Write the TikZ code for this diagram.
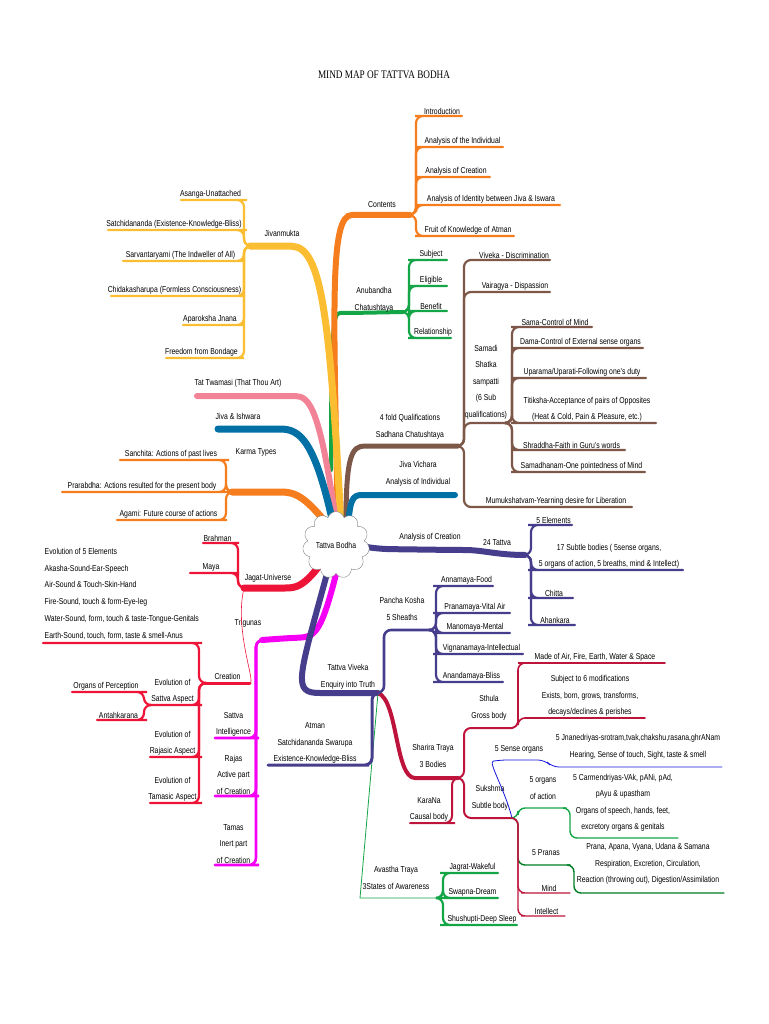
\documentclass[tikz,border=0pt]{standalone}
\usepackage{fontspec}
\setmainfont{Liberation Sans}[FakeStretch=0.8]
\newfontfamily\titlefont{Liberation Serif}[FakeStretch=0.8]
\usetikzlibrary{calc}
\usetikzlibrary{shapes.symbols}

\definecolor{cOrange}{RGB}{245,125,30}
\definecolor{cYellow}{RGB}{251,190,50}
\definecolor{cGreen}{RGB}{20,165,70}
\definecolor{cBrown}{RGB}{125,88,72}
\definecolor{cTeal}{RGB}{0,112,165}
\definecolor{cPink}{RGB}{242,130,150}
\definecolor{cRed}{RGB}{238,20,55}
\definecolor{cMagenta}{RGB}{245,0,245}
\definecolor{cNavy}{RGB}{70,62,140}
\definecolor{cCrimson}{RGB}{190,20,60}
\definecolor{cBlue}{RGB}{20,20,220}
\definecolor{cDkGreen}{RGB}{0,125,35}

\newcommand\lblfont{\fontsize{8.6}{16.5}\selectfont}
\newcount\leafno
% leaf to the right of a junction
\newcommand\leafR[6]{\global\advance\leafno by 1
  \edef\lname{leaf\the\leafno}
  \draw[br,#1] (#2) -- ++(6,0) |- (#3,#5) -- (#4,#5);
  \path (#3,#5) -- node[lbl] (\lname) {#6} (#4,#5);}
% leaf to the left of a junction
\newcommand\leafL[6]{\global\advance\leafno by 1
  \edef\lname{leaf\the\leafno}
  \draw[br,#1] (#2) -- ++(-6,0) |- (#4,#5) -- (#3,#5);
  \path (#3,#5) -- node[lbl] (\lname) {#6} (#4,#5);}

\begin{document}
\begin{tikzpicture}[x=1pt,y=-1pt,
    lbl/.style={above, inner sep=1.5pt, align=center, font=\lblfont, text=black},
    txt/.style={inner sep=1pt, align=center, font=\lblfont, text=black},
    br/.style={rounded corners=7pt, line cap=round, line width=2.2pt},
    trunk/.style={rounded corners=10pt, line cap=round}]
  \useasboundingbox (0,0) rectangle (768,1024);

  \node[font=\titlefont\fontsize{11.5}{12}\selectfont] (title) at (384,75) {MIND MAP OF TATTVA BODHA};

  %%% junctions %%%
  \coordinate (Jc) at (410,215);
  \coordinate (Ja) at (403,312);
  \coordinate (J4) at (458,446);
  \coordinate (Jsam) at (506,423);
  \coordinate (Jvi) at (455,495);
  \coordinate (Jj) at (250,246);
  \coordinate (Jtt) at (197,396);
  \coordinate (Jji) at (218,429);
  \coordinate (Jk) at (232,492);
  \coordinate (Jg) at (244,588);
  \coordinate (Jcr) at (205,683);
  \coordinate (Jsat) at (150,705);
  \coordinate (Jt) at (262,640);
  \coordinate (Jv) at (378,693);
  \coordinate (Jpk) at (430,630);
  \coordinate (Jsh) at (458,778);
  \coordinate (Jst) at (512,728);
  \coordinate (Jsk) at (512,818);
  \coordinate (Joa) at (566,808);
  \coordinate (Jpr) at (570,865);
  \coordinate (Jav) at (437,898);
  \coordinate (Jn) at (525,555);

  %%% trunks %%%
  \draw[trunk, cGreen, line width=4pt] (331,470) .. controls (331,330) and (333,313) .. (350,313) -- (Ja);
  \draw[trunk, cOrange, line width=6pt] (338,525) .. controls (333,300) and (330,215) .. (362,215) -- (Jc);
  \draw[trunk, cYellow, line width=7pt] (341,525) .. controls (330,320) and (322,247) .. (282,246) -- (Jj);
  \draw[trunk, cBrown, line width=5pt] (346,522) .. controls (346,455) and (352,446) .. (375,446) -- (J4);
  \draw[trunk, cTeal, line width=6pt] (348,528) .. controls (350,500) and (352,495) .. (372,495) -- (Jvi);
  \draw[trunk, cPink, line width=6pt] (336,522) .. controls (320,410) and (310,396) .. (285,396) -- (Jtt);
  \draw[trunk, cTeal, line width=7pt] (334,528) .. controls (315,440) and (300,429) .. (270,429) -- (Jji);
  \draw[trunk, cOrange, line width=7pt] (334,533) .. controls (305,495) and (295,492) .. (270,492) -- (Jk);
  \draw[trunk, cRed, line width=7pt] (326,556) .. controls (305,588) and (295,588) .. (275,588) -- (Jg);
  \draw[trunk, cMagenta, line width=6pt] (338,566) .. controls (322,632) and (315,637) .. (290,638) -- (Jt);
  \draw[trunk, cNavy, line width=6pt] (328,570) .. controls (298,680) and (292,693) .. (330,693) -- (Jv);
  \draw[trunk, cNavy, line width=6pt] (360,546) -- (380,549) -- (455,550) to[out=0,in=180] (Jn);
  \draw[trunk, cCrimson, line width=4pt] (Jv) .. controls (398,700) and (395,778) .. (425,778) -- (Jsh);
  \draw[cGreen, line width=0.8pt] (Jv) -- (360,898) -- (Jav);

  \node[cloud, cloud puffs=11, draw=gray, fill=white, minimum width=64pt, minimum height=48pt,
    inner sep=0pt, font=\lblfont] (ctr) at (336,545) {Tattva Bodha};

  %%% branch labels %%%
  \node[txt] (contents) at (382,205) {Contents};
  \node[txt] (anub) at (374,300) {Anubandha\\Chatushtaya};
  \node[txt] (fourfold) at (410,427) {4 fold Qualifications\\Sadhana Chatushtaya};
  \node[txt] (samadi) at (486,382) {Samadi\\Shatka\\sampatti\\(6 Sub\\qualifications)};
  \node[txt] (jivav) at (418,474) {Jiva Vichara\\Analysis of Individual};
  \node[txt] (jivan) at (282,233) {Jivanmukta};
  \node[txt] (tat) at (238,383) {Tat Twamasi (That Thou Art)};
  \node[txt] (jiva) at (238,416) {Jiva \& Ishwara};
  \node[txt] (karma) at (256,452) {Karma Types};
  \node[txt] (jagat) at (268,578) {Jagat-Universe};
  \node[txt] (trig) at (248,623) {Trigunas};
  \node[txt] (tviv) at (348,677) {Tattva Viveka\\Enquiry into Truth};
  \node[txt] (aoc) at (430,537) {Analysis of Creation};
  \node[txt] (tattva24) at (497,543) {24 Tattva};
  \node[txt] (pk) at (402,609) {Pancha Kosha\\5 Sheaths};
  \node[txt] (sharira) at (433,756) {Sharira Traya\\3 Bodies};
  \node[txt] (sthula) at (489,708) {Sthula\\Gross body};
  \node[txt] (suk) at (490,798) {Sukshma\\Subtle body};
  \node[txt] (avastha) at (396,878) {Avastha Traya\\3States of Awareness};

  %%% Contents %%%
  \leafR{cOrange}{Jc}{422}{462}{116}{Introduction}
  \leafR{cOrange}{Jc}{422}{503}{147}{Analysis of the Individual}
  \leafR{cOrange}{Jc}{422}{490}{177}{Analysis of Creation}
  \leafR{cOrange}{Jc}{422}{560}{205}{Analysis of Identity between Jiva \& Iswara}
  \leafR{cOrange}{Jc}{422}{514}{236}{Fruit of Knowledge of Atman}

  %%% Anubandha %%%
  \leafR{cGreen}{Ja}{415}{447}{260}{Subject}
  \leafR{cGreen}{Ja}{415}{447}{286}{Eligible}
  \leafR{cGreen}{Ja}{415}{447}{311}{Benefit}
  \leafR{cGreen}{Ja}{415}{451}{338}{Relationship}

  %%% Sadhana Chatushtaya %%%
  \leafR{cBrown}{J4}{478}{550}{260}{Viveka - Discrimination}
  \leafR{cBrown}{J4}{480}{550}{292}{Vairagya - Dispassion}
  \draw[br,cBrown] (J4) -- ++(6,0) |- (Jsam);
  \leafR{cBrown}{J4}{480}{632}{507}{Mumukshatvam-Yearning desire for Liberation}
  \leafR{cBrown}{Jsam}{518}{592}{327}{Sama-Control of Mind}
  \leafR{cBrown}{Jsam}{518}{643}{348}{Dama-Control of External sense organs}
  \leafR{cBrown}{Jsam}{518}{646}{378}{Uparama/Uparati-Following one's duty}
  \leafR{cBrown}{Jsam}{518}{656}{423}{Titiksha-Acceptance of pairs of Opposites\\(Heat \& Cold, Pain \& Pleasure, etc.)}
  \leafR{cBrown}{Jsam}{518}{625}{450}{Shraddha-Faith in Guru's words}
  \leafR{cBrown}{Jsam}{518}{645}{472}{Samadhanam-One pointedness of Mind}

  %%% Jivanmukta %%%
  \leafL{cYellow}{Jj}{181}{240}{200}{Asanga-Unattached}
  \leafL{cYellow}{Jj}{108}{240}{230}{Satchidananda (Existence-Knowledge-Bliss)}
  \leafL{cYellow}{Jj}{123}{238}{261}{Sarvantaryami (The Indweller of All)}
  \leafL{cYellow}{Jj}{111}{238}{296}{Chidakasharupa (Formless Consciousness)}
  \leafL{cYellow}{Jj}{183}{237}{325}{Aparoksha Jnana}
  \leafL{cYellow}{Jj}{166}{237}{358}{Freedom from Bondage}

  %%% Karma %%%
  \leafL{cOrange}{Jk}{120}{222}{460}{Sanchita: Actions of past lives}
  \leafL{cOrange}{Jk}{62}{222}{492}{Prarabdha: Actions resulted for the present body}
  \leafL{cOrange}{Jk}{117}{220}{520}{Agami: Future course of actions}

  %%% Jagat %%%
  \leafL{cRed}{Jg}{203}{232}{543}{Brahman}
  \leafL{cRed}{Jg}{190}{232}{573}{Maya}
  \draw[cRed, line width=0.6pt] (Jg) .. controls (234,630) and (256,683) .. (250,683);
  \draw[br,cRed,line width=3pt] (250,683) -- node[lbl] (creation) {Creation} (Jcr);
  \leafL{cRed}{Jcr}{43}{195}{643}{}
  \node[anchor=south west, inner sep=1.5pt, align=left, font=\fontsize{8.6}{16.8}\selectfont] (elements) at (43,641)
    {Evolution of 5 Elements\\Akasha-Sound-Ear-Speech\\Air-Sound \& Touch-Skin-Hand\\Fire-Sound, touch \& form-Eye-leg\\Water-Sound, form, touch \& taste-Tongue-Genitals\\Earth-Sound, touch, form, taste \& smell-Anus};
  \leafL{cRed}{Jcr}{150}{195}{705}{Evolution of\\Sattva Aspect}
  \leafL{cRed}{Jcr}{150}{195}{757}{Evolution of\\Rajasic Aspect}
  \leafL{cRed}{Jcr}{150}{195}{803}{Evolution of\\Tamasic Aspect}
  \leafL{cRed}{Jsat}{72}{140}{692}{Organs of Perception}
  \leafL{cRed}{Jsat}{97}{140}{720}{Antahkarana}

  %%% Trigunas %%%
  \leafL{cMagenta,line width=2.6pt}{Jt}{215}{252}{738}{Sattva\\Intelligence}
  \leafL{cMagenta,line width=2.6pt}{Jt}{215}{252}{796}{Rajas\\Active part\\of Creation}
  \leafL{cMagenta,line width=2.6pt}{Jt}{215}{252}{865}{Tamas\\Inert part\\of Creation}

  %%% Tattva Viveka %%%
  \leafL{cNavy,line width=3pt}{Jv}{268}{362}{765}{Atman\\Satchidananda Swarupa\\Existence-Knowledge-Bliss}
  \draw[br,cNavy,line width=2.6pt] (Jv) -- ++(6,0) |- (Jpk);
  \leafR{cNavy}{Jpk}{440}{493}{586}{Annamaya-Food}
  \leafR{cNavy}{Jpk}{440}{510}{613}{Pranamaya-Vital Air}
  \leafR{cNavy}{Jpk}{440}{510}{633}{Manomaya-Mental}
  \leafR{cNavy}{Jpk}{440}{523}{654}{Vignanamaya-Intellectual}
  \leafR{cNavy}{Jpk}{440}{503}{682}{Anandamaya-Bliss}

  %%% Sharira Traya %%%
  \draw[br,cCrimson,line width=2pt] (Jsh) -- ++(6,0) |- (Jst);
  \draw[br,cCrimson,line width=2pt] (Jsh) -- ++(6,0) |- (Jsk);
  \leafL{cCrimson,line width=2pt}{Jsh}{410}{448}{823}{KaraNa\\Causal body}
  \leafR{cCrimson,line width=1.6pt}{Jst}{525}{665}{663}{Made of Air, Fire, Earth, Water \& Space}
  \leafR{cCrimson,line width=1.6pt}{Jst}{535}{645}{718}{Subject to 6 modifications\\Exists, born, grows, transforms,\\decays/declines \& perishes}

  %%% Sukshma %%%
  \draw[br,cBlue,line width=0.8pt] (Jsk) .. controls (505,790) and (488,762) .. (500,760) -- (545,760) -- (552,767) -- (722,767);
  \node[txt] (senses) at (519,749) {5 Sense organs};
  \node[txt] (jnana) at (638,747) {5 Jnanedriyas-srotram,tvak,chakshu,rasana,ghrANam\\Hearing, Sense of touch, Sight, taste \& smell};
  \draw[br,cGreen,line width=1.4pt] (Jsk) -- ++(6,0) |- (Joa);
  \draw[br,cGreen,line width=1.4pt] (Joa) -- ++(4,0) |- (678,838);
  \node[txt] (organs) at (543,788) {5 organs\\of action};
  \node[txt] (karmen) at (623,803) {5 Carmendriyas-VAk, pANi, pAd,\\pAyu \& upastham\\Organs of speech, hands, feet,\\excretory organs \& genitals};
  \draw[br,cDkGreen,line width=1.4pt] (Jsk) -- ++(6,0) |- (Jpr);
  \draw[br,cDkGreen,line width=1.4pt] (Jpr) -- ++(4,0) |- (724,893);
  \node[txt] (pranas) at (546,853) {5 Pranas};
  \node[txt] (prana) at (648,864) {Prana, Apana, Vyana, Udana \& Samana\\Respiration, Excretion, Circulation,\\Reaction (throwing out), Digestion/Assimilation};
  \leafR{cCrimson,line width=1.4pt}{Jsk}{528}{570}{893}{Mind}
  \leafR{cCrimson,line width=1.4pt}{Jsk}{528}{565}{916}{Intellect}

  %%% Avastha Traya %%%
  \leafR{cGreen}{Jav}{447}{498}{873}{Jagrat-Wakeful}
  \leafR{cGreen}{Jav}{447}{498}{898}{Swapna-Dream}
  \leafR{cGreen}{Jav}{447}{517}{925}{Shushupti-Deep Sleep}

  %%% 24 Tattva %%%
  \leafR{cNavy}{Jn}{535}{572}{525}{5 Elements}
  \leafR{cNavy}{Jn}{535}{683}{570}{17 Subtle bodies ( 5sense organs,\\5 organs of action, 5 breaths, mind \& Intellect)}
  \leafR{cNavy}{Jn}{535}{573}{598}{Chitta}
  \leafR{cNavy}{Jn}{535}{575}{625}{Ahankara}
\end{tikzpicture}
\end{document}
